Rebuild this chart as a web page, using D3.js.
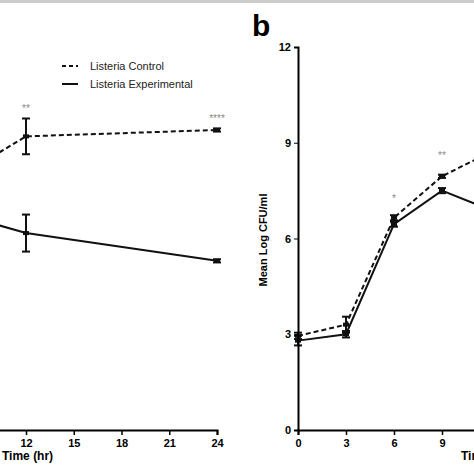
<!DOCTYPE html>
<html><head><meta charset="utf-8">
<script src="https://cdn.jsdelivr.net/npm/d3@7"></script>
<style>body{margin:0;background:#fff}text{font-family:Arial,"Liberation Sans",sans-serif}</style>
</head><body><div id="chart"></div>
<script>
const width = 474, height = 474;

// panel a (Listeria, left, cropped)
const hoursA = [0, 3, 6, 9, 12, 24];
const controlA = [3.0, 4.6, 7.0, 8.3, 9.2, 9.4];
const controlErrA = [0.1, 0.2, 0.2, 0.2, 0.56, 0.05];
const expA = [3.0, 4.5, 6.5, 6.6, 6.17, 5.3];
const expErrA = [0.1, 0.2, 0.2, 0.2, 0.58, 0.05];
const starsA = [{h: 12, y: 9.95, t: "**"}, {h: 24, y: 9.65, t: "****"}];

// panel b (right, cropped)
const hoursB = [0, 3, 6, 9, 12];
const controlB = [2.95, 3.3, 6.65, 7.95, 8.7];
const controlErrB = [0.1, 0.25, 0.08, 0.05, 0.05];
const expB = [2.8, 3.0, 6.45, 7.5, 6.9];
const expErrB = [0.15, 0.1, 0.08, 0.08, 0.08];
const starsB = [{h: 6, y: 7.15, t: "*"}, {h: 9, y: 8.5, t: "**"}];

const xTicks = [0, 3, 6, 9, 12, 15, 18, 21, 24];
const yTicks = [0, 3, 6, 9, 12];

const svg = d3.select("#chart").append("svg").attr("width", width).attr("height", height);
svg.append("rect").attr("width", width).attr("height", height).attr("fill", "#fff");
svg.append("rect").attr("width", width).attr("height", 3).attr("fill", "#ccc");

const y = d3.scaleLinear().domain([0, 12]).range([430, 47]);

function drawPanel(g, x, hours, ctrl, ctrlErr, exp, expErr, stars) {
    // only ticks that land inside the visible crop
    const ticks = xTicks.filter(t => x(t) > 5 && x(t) < width - 5);
    const axis = g.append("g").attr("transform", "translate(0,430)")
        .call(d3.axisBottom(x).tickValues(ticks).tickSize(5).tickFormat(d3.format("d")));
    axis.select(".domain").attr("stroke-width", 2);
    axis.selectAll(".tick line").attr("stroke-width", 1.5);
    axis.selectAll("text").attr("font-size", 11).attr("font-weight", "bold").attr("dy", "0.85em");

    const series = [
        {v: ctrl, e: ctrlErr, dash: "5,3"},
        {v: exp, e: expErr, dash: null}
    ];
    series.forEach(s => {
        const pts = hours.map((h, i) => ({h, v: s.v[i], e: s.e[i]}));
        g.append("path").datum(pts)
            .attr("fill", "none").attr("stroke", "#111").attr("stroke-width", 2)
            .attr("stroke-dasharray", s.dash)
            .attr("d", d3.line().x(d => x(d.h)).y(d => y(d.v)));
        const eb = g.selectAll(null).data(pts).enter().append("g");
        eb.append("line").attr("x1", d => x(d.h)).attr("x2", d => x(d.h))
            .attr("y1", d => y(d.v - d.e)).attr("y2", d => y(d.v + d.e))
            .attr("stroke", "#111").attr("stroke-width", 2);
        [-1, 1].forEach(sg => eb.append("line")
            .attr("x1", d => x(d.h) - 4).attr("x2", d => x(d.h) + 4)
            .attr("y1", d => y(d.v + sg * d.e)).attr("y2", d => y(d.v + sg * d.e))
            .attr("stroke", "#111").attr("stroke-width", 2));
        eb.append("rect").attr("x", d => x(d.h) - 3).attr("y", d => y(d.v) - 2)
            .attr("width", 6).attr("height", 4).attr("fill", "#111");
    });
    g.selectAll(null).data(stars).enter().append("text")
        .attr("x", d => x(d.h)).attr("y", d => y(d.y)).attr("text-anchor", "middle")
        .attr("font-size", 10).attr("fill", "#888").text(d => d.t);
}

// left panel
const xA = d3.scaleLinear().domain([0, 24]).range([-165, 217]);
const gA = svg.append("g");
drawPanel(gA, xA, hoursA, controlA, controlErrA, expA, expErrA, starsA);
gA.append("text").attr("x", 2).attr("y", 460)
    .attr("font-size", 12).attr("font-weight", "bold").text("Time (hr)");

// legend
const legend = svg.append("g").attr("transform", "translate(62,66)");
legend.append("line").attr("x1", 0).attr("x2", 16).attr("y1", 0).attr("y2", 0)
    .attr("stroke", "#111").attr("stroke-width", 2).attr("stroke-dasharray", "4,3");
legend.append("line").attr("x1", 0).attr("x2", 16).attr("y1", 18).attr("y2", 18)
    .attr("stroke", "#111").attr("stroke-width", 2);
legend.append("text").attr("x", 28).attr("y", 4).attr("font-size", 11).attr("fill", "#222").text("Listeria Control");
legend.append("text").attr("x", 28).attr("y", 22).attr("font-size", 11).attr("fill", "#222").text("Listeria Experimental");

// right panel
const xB = d3.scaleLinear().domain([0, 24]).range([298, 682]);
const gB = svg.append("g");
drawPanel(gB, xB, hoursB, controlB, controlErrB, expB, expErrB, starsB);
const yAx = gB.append("g").attr("transform", "translate(298,0)")
    .call(d3.axisLeft(y).tickValues(yTicks).tickSize(4));
yAx.select(".domain").attr("stroke-width", 2);
yAx.selectAll("text").attr("font-size", 11).attr("font-weight", "bold");
gB.append("text").attr("x", 461).attr("y", 460).attr("font-size", 12).attr("font-weight", "bold")
    .text("Time (hr)");
gB.append("text").attr("transform", "translate(267,240) rotate(-90)").attr("text-anchor", "middle")
    .attr("font-size", 11).attr("font-weight", "bold").text("Mean Log CFU/ml");
gB.append("text").attr("x", 252).attr("y", 36).attr("font-size", 30).attr("font-weight", "bold").text("b");
</script></body></html>
